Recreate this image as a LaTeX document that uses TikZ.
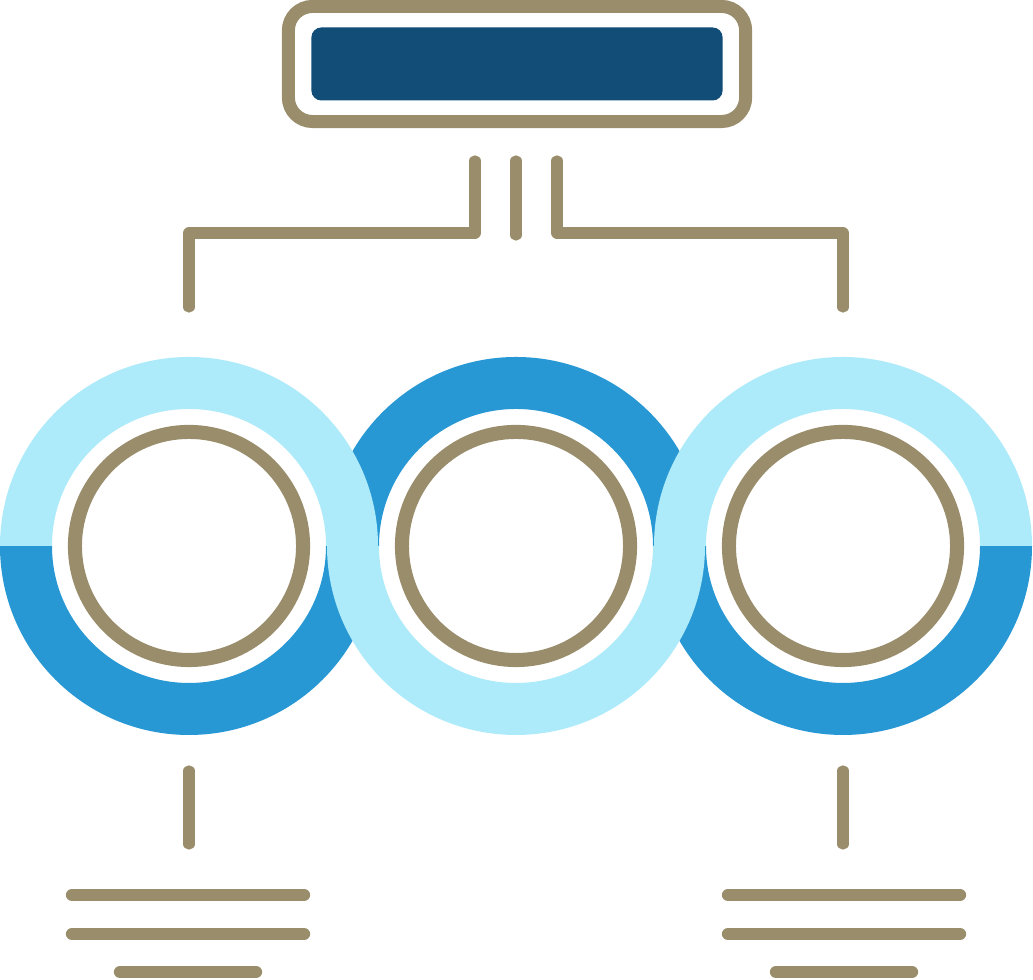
\documentclass[tikz,border=0pt]{standalone}
\usepackage{tikz}

\definecolor{navy}{HTML}{114D76}
\definecolor{deepblue}{HTML}{2898D5}
\definecolor{paleblue}{HTML}{AEEBFA}
\definecolor{khaki}{HTML}{998D6C}

\tikzset{
  wire/.style={khaki, line width=3.2pt, line cap=round, line join=round},
  bar/.style={khaki, line width=3.5pt, line cap=round},
  rim/.style={draw=khaki, line width=4pt, circle, minimum size=2.28cm, inner sep=0pt},
}

\begin{document}
\begin{tikzpicture}[x=0.01cm,y=0.01cm]
    \useasboundingbox (0,0) rectangle (1033,980);
    % header
    \node (head) [draw=khaki, line width=3.7pt, rounded corners=0.24cm,
        minimum width=4.57cm, minimum height=1.15cm, inner sep=0pt] at (517,916) {};
    \node (title) [fill=navy, rounded corners=0.1cm,
        minimum width=4.11cm, minimum height=0.73cm, inner sep=0pt] at (head.center) {};
    % chain of rings: dark halves first, pale halves on top
    \foreach \cx/\a in {189/180,516/0,843/180}
    {   \fill[deepblue] (\cx,434) ++(\a:189) arc[start angle=\a, delta angle=180, radius=189]
            -- ++(\a:52) arc[start angle=\a+180, delta angle=-180, radius=137] -- cycle;
    }
    \foreach \cx/\a in {189/0,516/180,843/0}
    {   \fill[paleblue] (\cx,434) ++(\a:189) arc[start angle=\a, delta angle=180, radius=189]
            -- ++(\a:52) arc[start angle=\a+180, delta angle=-180, radius=137] -- cycle;
    }
    \node (slotA) [rim] at (189,434) {};
    \node (slotB) [rim] at (516,434) {};
    \node (slotC) [rim] at (843,434) {};
    % branches from the header
    \coordinate (tapL) at (475,819);
    \coordinate (tapM) at (516,819);
    \coordinate (tapR) at (557,819);
    \coordinate (dropL) at (189,673);
    \coordinate (dropR) at (843,673);
    \draw[wire] (tapL) -- ++(0,-72) -| (dropL);
    \draw[wire] (tapM) -- ++(0,-74);
    \draw[wire] (tapR) -- ++(0,-72) -| (dropR);
    % feet with text lines
    \coordinate (footL) at (189,209);
    \coordinate (footR) at (843,209);
    \draw[wire] (footL) -- ++(0,-73);
    \draw[wire] (footR) -- ++(0,-73);
    \foreach \cx in {188,844}
    {   \draw[bar] (\cx-116,85) -- (\cx+116,85);
        \draw[bar] (\cx-116,46) -- (\cx+116,46);
        \draw[bar] (\cx-68,8) -- (\cx+68,8);
    }
\end{tikzpicture}
\end{document}
